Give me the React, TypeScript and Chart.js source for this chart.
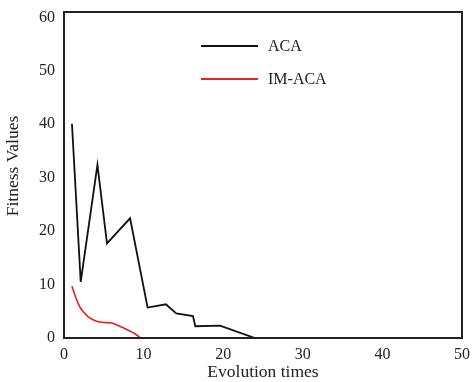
import React, { useEffect, useRef } from "react";
import { Chart, registerables } from "chart.js";

Chart.register(...registerables);

const acaX = [1, 2.1, 4.2, 5.4, 8.3, 10.5, 12.8, 14.1, 16.2, 16.5, 19.6, 24, 50];
const acaY = [40.1, 10.5, 32.4, 17.7, 22.4, 5.7, 6.3, 4.6, 4.1, 2.2, 2.3, 0, 0];
const imX = [1, 1.5, 2, 2.5, 3, 4, 5, 6, 7, 8, 9, 9.6];
const imY = [9.7, 7.5, 5.8, 4.8, 4.0, 3.2, 2.9, 2.8, 2.2, 1.5, 0.7, 0];
const xTicks = [0, 10, 20, 30, 40, 50];
const yTicks = [0, 10, 20, 30, 40, 50, 60];
const seriesNames = ["ACA", "IM-ACA"];
const xTitle = "Evolution times";
const yTitle = "Fitness Values";
const FONT = "'Liberation Serif', 'Times New Roman', serif";

const boxPlugin = {
  id: "boxPlugin",
  afterDraw(chart: any) {
    const { ctx, chartArea } = chart;
    ctx.save();
    ctx.strokeStyle = "#222";
    ctx.lineWidth = 2;
    ctx.strokeRect(chartArea.left, chartArea.top, chartArea.right - chartArea.left, chartArea.bottom - chartArea.top);
    ctx.restore();
  },
};

const titlesPlugin = {
  id: "titlesPlugin",
  afterDraw(chart: any) {
    const { ctx } = chart;
    ctx.save();
    ctx.fillStyle = "#222";
    ctx.font = `17.5px ${FONT}`;
    ctx.textAlign = "center";
    ctx.textBaseline = "middle";
    ctx.fillText(xTitle, 263, 372);
    ctx.translate(13, 166);
    ctx.rotate(-Math.PI / 2);
    ctx.fillText(yTitle, 0, 0);
    ctx.restore();
  },
};

const legendPlugin = {
  id: "innerLegend",
  afterDraw(chart: any) {
    const { ctx } = chart;
    const items = [
      { y: 46, ds: chart.data.datasets[0] },
      { y: 79, ds: chart.data.datasets[1] },
    ];
    ctx.save();
    items.forEach((it) => {
      ctx.strokeStyle = it.ds.borderColor;
      ctx.lineWidth = 1.8;
      ctx.beginPath();
      ctx.moveTo(201, it.y);
      ctx.lineTo(258, it.y);
      ctx.stroke();
      ctx.fillStyle = "#222";
      ctx.font = `16px ${FONT}`;
      ctx.textBaseline = "middle";
      ctx.textAlign = "left";
      ctx.fillText(it.ds.label, 268, it.y + 1);
    });
    ctx.restore();
  },
};

export default function App() {
  const ref = useRef<HTMLCanvasElement>(null);
  useEffect(() => {
    document.body.style.margin = "0";
    const chart = new Chart(ref.current!, {
      type: "line",
      data: {
        datasets: [
          {
            label: seriesNames[0],
            data: acaX.map((x, i) => ({ x, y: acaY[i] })),
            borderColor: "#111",
            borderWidth: 1.8,
            pointRadius: 0,
            tension: 0,
            clip: false as any,
          },
          {
            label: seriesNames[1],
            data: imX.map((x, i) => ({ x, y: imY[i] })),
            borderColor: "#e8211f",
            borderWidth: 1.6,
            pointRadius: 0,
            cubicInterpolationMode: "monotone",
            clip: false as any,
          },
        ],
      },
      options: {
        animation: false,
        responsive: false,
        layout: { padding: { top: 12, right: 12, left: 0, bottom: 0 } },
        plugins: { legend: { display: false }, tooltip: { enabled: false } },
        scales: {
          x: {
            type: "linear",
            min: 0,
            max: 50,
            afterBuildTicks: (s: any) => {
              s.ticks = xTicks.map((v) => ({ value: v }));
            },
            afterFit: (s: any) => {
              s.height = 44;
              s.paddingLeft = 0;
              s.paddingRight = 0;
            },
            grid: { display: false, drawTicks: false },
            border: { display: false },
            ticks: { color: "#222", font: { family: FONT, size: 16 }, padding: 7, maxRotation: 0 },
          },
          y: {
            type: "linear",
            min: 0,
            max: 61,
            afterBuildTicks: (s: any) => {
              s.ticks = yTicks.map((v) => ({ value: v }));
            },
            afterFit: (s: any) => {
              s.width = 64;
              s.paddingTop = 0;
              s.paddingBottom = 0;
            },
            grid: { display: false, drawTicks: false },
            border: { display: false },
            ticks: { color: "#222", font: { family: FONT, size: 16 }, padding: 9 },
          },
        },
      },
      plugins: [boxPlugin, titlesPlugin, legendPlugin],
    });
    return () => chart.destroy();
  }, []);
  return (
    <div style={{ width: 474, height: 382 }}>
      <canvas ref={ref} width={474} height={382} style={{ display: "block" }} />
    </div>
  );
}
